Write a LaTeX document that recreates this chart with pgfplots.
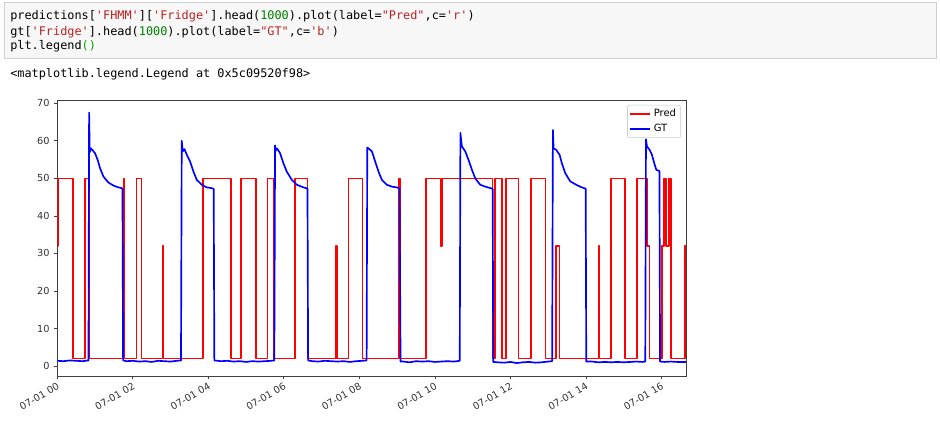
\documentclass[border=0pt]{standalone}
\usepackage{fontspec}
\setmainfont{DejaVu Sans}
\setmonofont{DejaVu Sans Mono}
\usepackage{pgfplots}
\pgfplotsset{compat=1.18}
\definecolor{codestr}{HTML}{BA2121}
\definecolor{codenum}{HTML}{008000}
\definecolor{codebr}{HTML}{00AA00}
\definecolor{cellbg}{HTML}{F7F7F7}
\definecolor{cellbd}{HTML}{CFCFCF}
\newcommand{\cstr}[1]{{\color{codestr}#1}}
\newcommand{\cnum}[1]{{\color{codenum}#1}}
\pgfplotsset{
    mplline/.style={line width=1.25pt, line join=round, mark=none},
    legend image code/.code={\draw[#1] (0pt,0pt) -- (15pt,0pt);},
}

\begin{document}
\begin{tikzpicture}
\path[use as bounding box] (0,0) rectangle (705pt,-319.5pt);
\fill[white] (0,0) rectangle (705pt,-319.5pt);

% notebook cell with the code
\draw[cellbd, fill=cellbg, line width=0.75pt] (3.4pt,-1.5pt) rectangle (702pt,-44.2pt);
\begin{scope}[every node/.style={anchor=base west, inner sep=0pt, font=\ttfamily\fontsize{8.9}{10}\selectfont}]
\node at (7.5pt,-14.6pt) {predictions[\cstr{'FHMM'}][\cstr{'Fridge'}].head(\cnum{1000}).plot(label=\cstr{"Pred"},c=\cstr{'r'})};
\node at (7.5pt,-26.3pt) {gt[\cstr{'Fridge'}].head(\cnum{1000}).plot(label=\cstr{"GT"},c=\cstr{'b'})};
\node at (7.5pt,-37pt) {plt.legend{\color{codebr}()}};
\node at (7.5pt,-58pt) {<matplotlib.legend.Legend at 0x5c09520f98>};
\end{scope}

\begin{axis}[
    at={(43pt,-282pt)}, anchor=south west,
    scale only axis,
    width=471.5pt, height=206.5pt,
    xmin=0, xmax=999,
    ymin=-2.65, ymax=70.7,
    xtick={0,120,240,360,480,600,720,840,960},
    xticklabels={07-01 00,07-01 02,07-01 04,07-01 06,07-01 08,07-01 10,07-01 12,07-01 14,07-01 16},
    ytick={0,10,20,30,40,50,60,70},
    tick pos=left,
    tick align=outside,
    major tick length=2.25pt,
    axis line style={black!75, line width=0.6pt},
    tick style={black!75, line width=0.6pt},
    ticklabel style={font=\fontsize{7.3}{9}\selectfont, text=black!80},
    xticklabel style={rotate=30, anchor=north east, inner sep=1.5pt},
    /pgf/number format/assume math mode=true,
    legend style={at={(1,1)}, anchor=north east, xshift=-3.75pt, yshift=-3.2pt,
        draw=black!20, rounded corners=1.5pt, fill=white,
        font=\fontsize{7.5}{9}\selectfont,
        inner xsep=1.5pt, inner ysep=1pt, row sep=0pt},
    legend cell align=left,
]

\addplot[red, mplline] coordinates {
(0,32)(1,32)(1,50)(24.4,50)(24.4,2)(44,2)(44,50)(50.4,50)(50.4,2)(105,2)(105,50)
(106.6,50)(106.6,2)(126,2)(126,50)(134,50)(134,2)(167,2)(167,32)(168.5,32)(168.5,2)
(231,2)(231,50)(275.6,50)(275.6,2)(292,2)(292,50)(315.4,50)(315.4,2)(334,2)(334,50)
(344.5,50)(344.5,2)(378,2)(378,50)(397.5,50)(397.5,2)(443,2)(443,32)(444.5,32)(444.5,2)
(462.6,2)(462.6,50)(485,50)(485,2)(542,2)(542,50)(545,50)(545,2)(585.6,2)(585.6,50)
(609,50)(609,32)(611.5,32)(611.5,50)(691.5,50)(691.5,2)(696,2)(696,50)(706.4,50)
(706.4,2)(713,2)(713,50)(733,50)(733,2)(753,2)(753,50)(775.8,50)(775.8,2)(792.8,2)
(792.8,32)(798,32)(798,2)(860,2)(860,32)(861.5,32)(861.5,2)(879.7,2)(879.7,50)
(902.5,50)(902.5,2)(921,2)(921,50)(937,50)(937,32)(941,32)(941,2)(960.8,2)(960.8,32)
(964.5,32)(964.5,50)(967.7,50)(967.7,32)(972,32)(972,50)(975,50)(975,2)(997.5,2)
(997.5,32)(999,32)
};
\addlegendentry{Pred}

\addplot[blue, mplline] coordinates {
(0,1.4) (10,1.3) (20,1.5) (30,1.4) (40,1.3) (49.5,1.5)
(50.5,67.5) (51.5,57.0) (53,58.0) (56,57.5) (59.9,56.7) (64.2,54.9) (67.9,52.7)
(73.2,50.5) (81.1,48.9) (89.1,48.1) (97,47.6) (102.3,47.4) (103.5,47.2)
(104.5,1.5) (110,1.3) (120,1.4) (130,1.2) (140,1.3) (150,1.1) (160,1.4)
(170,1.3) (180,1.2) (190,1.4) (196.5,1.5)
(197.7,60.0) (199.3,57.2) (202,57.8) (205.7,56.3) (211,54.5) (216.3,51.8)
(221.6,49.6) (229.5,48.3) (237.4,47.6) (245.4,47.4) (248.5,47.2)
(249.5,1.5) (260,1.3) (270,1.4) (280,1.2) (290,1.3) (300,1.1) (310,1.3)
(320,1.2) (330,1.3) (340,1.4) (344.8,1.5)
(346,58.8) (347,57.3) (349,58.0) (351,57.5) (354,56.7) (359.3,54.0) (364.6,51.8)
(372.6,49.6) (380.5,48.3) (391.1,47.6) (397.5,47.3)
(398.5,1.5) (405,1.3) (415,1.2) (425,1.4) (435,1.3) (445,1.2) (455,1.3)
(465,1.1) (475,1.3) (485,1.4) (491.5,1.5)
(492.5,58.2) (494.5,58.0) (499.8,57.2) (505.1,54.5) (510.4,51.8) (515.7,49.6)
(523.6,48.3) (531.6,47.8) (539.5,47.6) (543.8,47.3)
(545.4,1.2) (550,1.2) (560,1.0) (570,1.3) (580,1.2) (590,1.3) (600,1.1)
(610,1.2) (620,1.3) (630,1.2) (639.5,1.4)
(640.5,62.1) (642.9,58.5) (648.2,57.2) (653.5,54.9) (658.8,52.3) (664.1,50.0)
(672,48.3) (680,47.8) (690.6,47.3) (691.8,47.2)
(692.7,1.1) (700,1.0) (710,0.9) (720,1.1) (730,0.8) (740,1.0) (750,1.1)
(760,0.9) (770,1.0) (780,1.2) (786.3,1.3)
(787.5,62.9) (788.6,58.0) (792.8,57.6) (798.1,56.3) (801.8,54.0) (807.1,51.4)
(815.1,49.2) (825.7,48.2) (833.6,47.6) (838.9,47.3) (839.6,47.2)
(840.5,1.2) (850,1.2) (860,1.0) (870,1.1) (880,1.0) (890,1.1) (900,1.0)
(910,1.1) (920,1.2) (930,1.1) (934.3,1.2)
(935.4,60.4) (937,58.5) (941.2,57.6) (944.9,56.3) (948.6,54.0) (951.8,52.3)
(956,52.0) (956.8,51.9)
(957.8,1.2) (965,1.1) (975,1.2) (985,1.1) (999,1.1)
};
\addlegendentry{GT}

\end{axis}
\end{tikzpicture}
\end{document}
